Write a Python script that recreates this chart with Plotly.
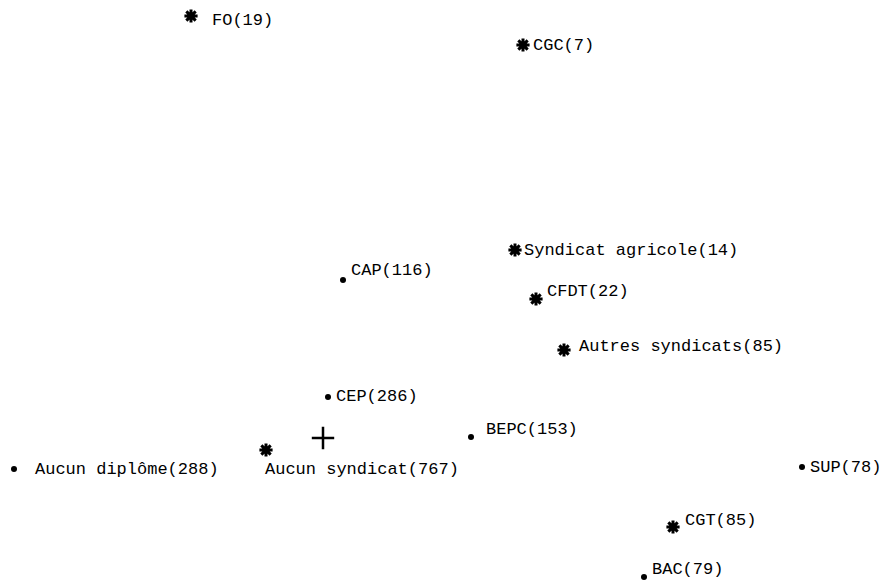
import plotly.graph_objects as go

# Correspondence analysis: factor 1 (x) and factor 2 (y)
union_labels = ["FO(19)", "CGC(7)", "Syndicat agricole(14)", "CFDT(22)",
                "Autres syndicats(85)", "Aucun syndicat(767)", "CGT(85)"]
union_x = [-1.32, 2.00, 1.92, 2.13, 2.41, -0.57, 3.50]
union_y = [4.22, 3.93, 1.88, 1.39, 0.88, -0.12, -0.89]

diploma_labels = ["CAP(116)", "CEP(286)", "BEPC(153)", "SUP(78)",
                  "Aucun diplôme(288)", "BAC(79)"]
diploma_x = [0.20, 0.05, 1.48, 4.79, -3.09, 3.21]
diploma_y = [1.58, 0.41, 0.01, -0.29, -0.31, -1.39]

origin_x = [0.0]
origin_y = [0.0]

# label offsets in pixels (style only)
union_off = [(19, -4), (8, 0), (7, 0), (9, 8), (13, 4), (-3, -19), (10, 7)]
diploma_off = [(6, 10), (6, 1), (13, 8), (6, 0), (19, 0), (6, 8)]

FONT = dict(family="Liberation Mono, DejaVu Sans Mono, monospace", size=17, color="black")

fig = go.Figure()
fig.add_trace(go.Scatter(x=union_x, y=union_y, mode="markers",
                         marker=dict(symbol="asterisk-open", size=11,
                                     line=dict(width=3, color="black"), color="black"),
                         hoverinfo="text", text=union_labels))
fig.add_trace(go.Scatter(x=union_x, y=union_y, mode="markers",
                         marker=dict(symbol="circle", size=6, color="black"),
                         hoverinfo="skip"))
fig.add_trace(go.Scatter(x=diploma_x, y=diploma_y, mode="markers",
                         marker=dict(symbol="circle", size=6, color="black"),
                         hoverinfo="text", text=diploma_labels))
fig.add_trace(go.Scatter(x=origin_x, y=origin_y, mode="markers",
                         marker=dict(symbol="cross-thin-open", size=16, color="black",
                                     line=dict(width=2.5, color="black")),
                         hoverinfo="skip"))

annotations = []
for lab, x, y, (dx, dy) in zip(union_labels + diploma_labels,
                               union_x + diploma_x, union_y + diploma_y,
                               union_off + diploma_off):
    annotations.append(dict(x=x, y=y, text=lab, showarrow=False,
                            xanchor="left", yanchor="middle",
                            xshift=dx, yshift=dy, font=FONT))

fig.update_layout(
    width=882, height=586,
    margin=dict(l=0, r=0, t=0, b=0),
    paper_bgcolor="white", plot_bgcolor="white",
    showlegend=False,
    annotations=annotations,
    xaxis=dict(range=[-3.23, 5.59], visible=False, fixedrange=True),
    yaxis=dict(range=[-1.48, 4.38], visible=False, fixedrange=True),
)
fig.write_html("out.html",
               config={"displayModeBar": False},
               post_script="document.body.style.margin='0';document.body.style.overflow='hidden';")
